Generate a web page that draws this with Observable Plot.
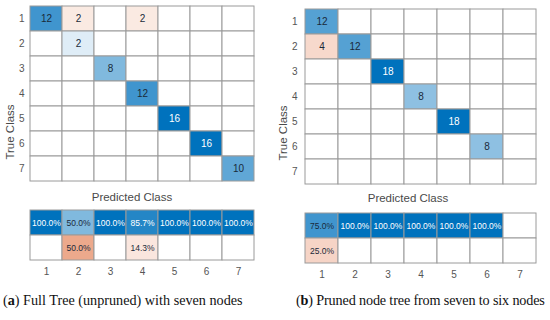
<!DOCTYPE html>
<html>
<head>
<meta charset="utf-8">
<script src="https://cdn.jsdelivr.net/npm/d3@7"></script>
<script src="https://cdn.jsdelivr.net/npm/@observablehq/plot@0.6"></script>
<style>
  html, body { margin: 0; padding: 0; background: #fff; }
  #root { position: relative; width: 550px; height: 320px; overflow: hidden; font-family: "Liberation Sans", Arial, sans-serif; }
  .abs { position: absolute; }
  .lab { font-size: 11.5px; color: #4a4a4a; white-space: nowrap; }
  .ylab { transform: translate(-50%, -50%) rotate(-90deg); font-size: 11.5px; color: #4a4a4a; white-space: nowrap; line-height: 1; }
  .cap { font-family: "Liberation Serif", "DejaVu Serif", serif; font-size: 14.2px; color: #111; white-space: nowrap; transform: translateY(-50%); }
</style>
</head>
<body>
<div id="root"></div>
<script>
// ---- data ----
const classes = ["1", "2", "3", "4", "5", "6", "7"];
// confusion matrix (a): rows = true class, cols = predicted class
const matrixA = [
  [12, 2, 0, 2, 0, 0, 0],
  [0, 2, 0, 0, 0, 0, 0],
  [0, 0, 8, 0, 0, 0, 0],
  [0, 0, 0, 12, 0, 0, 0],
  [0, 0, 0, 0, 16, 0, 0],
  [0, 0, 0, 0, 0, 16, 0],
  [0, 0, 0, 0, 0, 0, 10]
];
// confusion matrix (b)
const matrixB = [
  [12, 0, 0, 0, 0, 0, 0],
  [4, 12, 0, 0, 0, 0, 0],
  [0, 0, 18, 0, 0, 0, 0],
  [0, 0, 0, 8, 0, 0, 0],
  [0, 0, 0, 0, 18, 0, 0],
  [0, 0, 0, 0, 0, 8, 0],
  [0, 0, 0, 0, 0, 0, 0]
];
// column summaries (precision / false discovery), percent
const precisionA = [100.0, 50.0, 100.0, 85.7, 100.0, 100.0, 100.0];
const fdrA       = [null, 50.0, null, 14.3, null, null, null];
const precisionB = [75.0, 100.0, 100.0, 100.0, 100.0, 100.0, null];
const fdrB       = [25.0, null, null, null, null, null, null];
const captionA = ["(", "a", ") Full Tree (unpruned) with seven nodes"];
const captionB = ["(", "b", ") Pruned node tree from seven to six nodes"];
const axisTrue = "True Class";
const axisPred = "Predicted Class";

// ---- helpers ----
const BLUE = "#0072BD", RED = "#D95319";
const blueI = d3.interpolateRgb("#ffffff", BLUE);
const redI = d3.interpolateRgb("#ffffff", RED);
const GRID = "#9a9a9a";
const FONT = "Liberation Sans, Arial, sans-serif";

function matrixRows(m) {
  const max = d3.max(m.flat());
  const rows = [];
  m.forEach((r, i) => r.forEach((v, j) => {
    const t = v / max;
    rows.push({
      t: classes[i], p: classes[j], v,
      fill: v === 0 ? "#ffffff" : (i === j ? blueI(t) : redI(t)),
      ink: t > 0.8 ? "#ffffff" : "#1a2a3a"
    });
  }));
  return rows;
}
function summaryRows(prec, fdr) {
  const rows = [];
  classes.forEach((c, j) => {
    const a = prec[j], b = fdr[j];
    rows.push({p: c, r: "tp", v: a, fill: a == null ? "#fff" : blueI(a / 100), ink: a != null && a > 80 ? "#ffffff" : "#1a2a3a"});
    rows.push({p: c, r: "fp", v: b, fill: b == null ? "#fff" : redI(b / 100), ink: "#1a2a3a"});
  });
  return rows;
}

function mainPlot(m, opts) {
  const data = matrixRows(m);
  return Plot.plot({
    width: 275, height: 190,
    marginLeft: opts.ml, marginRight: opts.mr, marginTop: opts.mt, marginBottom: opts.mb,
    style: {fontFamily: FONT, fontSize: "10px", color: "#555", background: "transparent"},
    x: {domain: classes, padding: 0, axis: null},
    y: {domain: classes, padding: 0, label: null, tickSize: 0, tickPadding: 6},
    color: {type: "identity"},
    marks: [
      Plot.cell(data, {x: "p", y: "t", fill: "fill", stroke: GRID, strokeWidth: 1, inset: 0}),
      Plot.text(data.filter(d => d.v > 0), {x: "p", y: "t", text: d => String(d.v), fill: "ink", fontSize: 10})
    ]
  });
}
function summaryPlot(prec, fdr, opts) {
  const data = summaryRows(prec, fdr);
  return Plot.plot({
    width: 275, height: 80,
    marginLeft: opts.ml, marginRight: opts.mr, marginTop: opts.mt, marginBottom: opts.mb,
    style: {fontFamily: FONT, fontSize: "10px", color: "#555", background: "transparent"},
    x: {domain: classes, padding: 0, label: null, tickSize: 0, tickPadding: 7},
    y: {domain: ["tp", "fp"], padding: 0, axis: null},
    color: {type: "identity"},
    marks: [
      Plot.cell(data, {x: "p", y: "r", fill: "fill", stroke: GRID, strokeWidth: 1, inset: 0}),
      Plot.text(data.filter(d => d.v != null), {x: "p", y: "r", text: d => d.v.toFixed(1) + "%", fill: "ink", fontSize: 8.5})
    ]
  });
}

const root = document.getElementById("root");
function place(node, left, top) {
  const d = document.createElement("div");
  d.className = "abs";
  d.style.left = left + "px";
  d.style.top = top + "px";
  d.appendChild(node);
  root.appendChild(d);
  return d;
}
function label(text, cls, left, top) {
  const d = document.createElement("div");
  d.className = "abs " + cls;
  d.style.left = left + "px";
  d.style.top = top + "px";
  d.textContent = text;
  root.appendChild(d);
  return d;
}

place(mainPlot(matrixA, {ml: 30, mr: 21, mt: 4, mb: 7}), 0, 0);
place(mainPlot(matrixB, {ml: 28, mr: 12, mt: 7, mb: 5}), 275, 0);
place(summaryPlot(precisionA, fdrA, {ml: 30, mr: 21, mt: 9, mb: 20}), 0, 200);
place(summaryPlot(precisionB, fdrB, {ml: 28, mr: 12, mt: 12, mb: 17}), 275, 200);

label(axisTrue, "ylab", 11, 132);
label(axisTrue, "ylab", 284, 133);
const p1 = label(axisPred, "lab", 132, 197); p1.style.transform = "translate(-50%,-50%)";
const p2 = label(axisPred, "lab", 408, 198); p2.style.transform = "translate(-50%,-50%)";

function caption(parts, left, top, ls) {
  const d = document.createElement("div");
  d.className = "abs cap";
  d.style.left = left + "px";
  d.style.top = top + "px";
  d.style.letterSpacing = ls + "px";
  d.append(parts[0]);
  const b = document.createElement("b"); b.textContent = parts[1]; d.appendChild(b);
  d.append(parts[2]);
  root.appendChild(d);
}
caption(captionA, 3, 300, 0);
caption(captionB, 296, 300, -0.15);
</script>
</body>
</html>
